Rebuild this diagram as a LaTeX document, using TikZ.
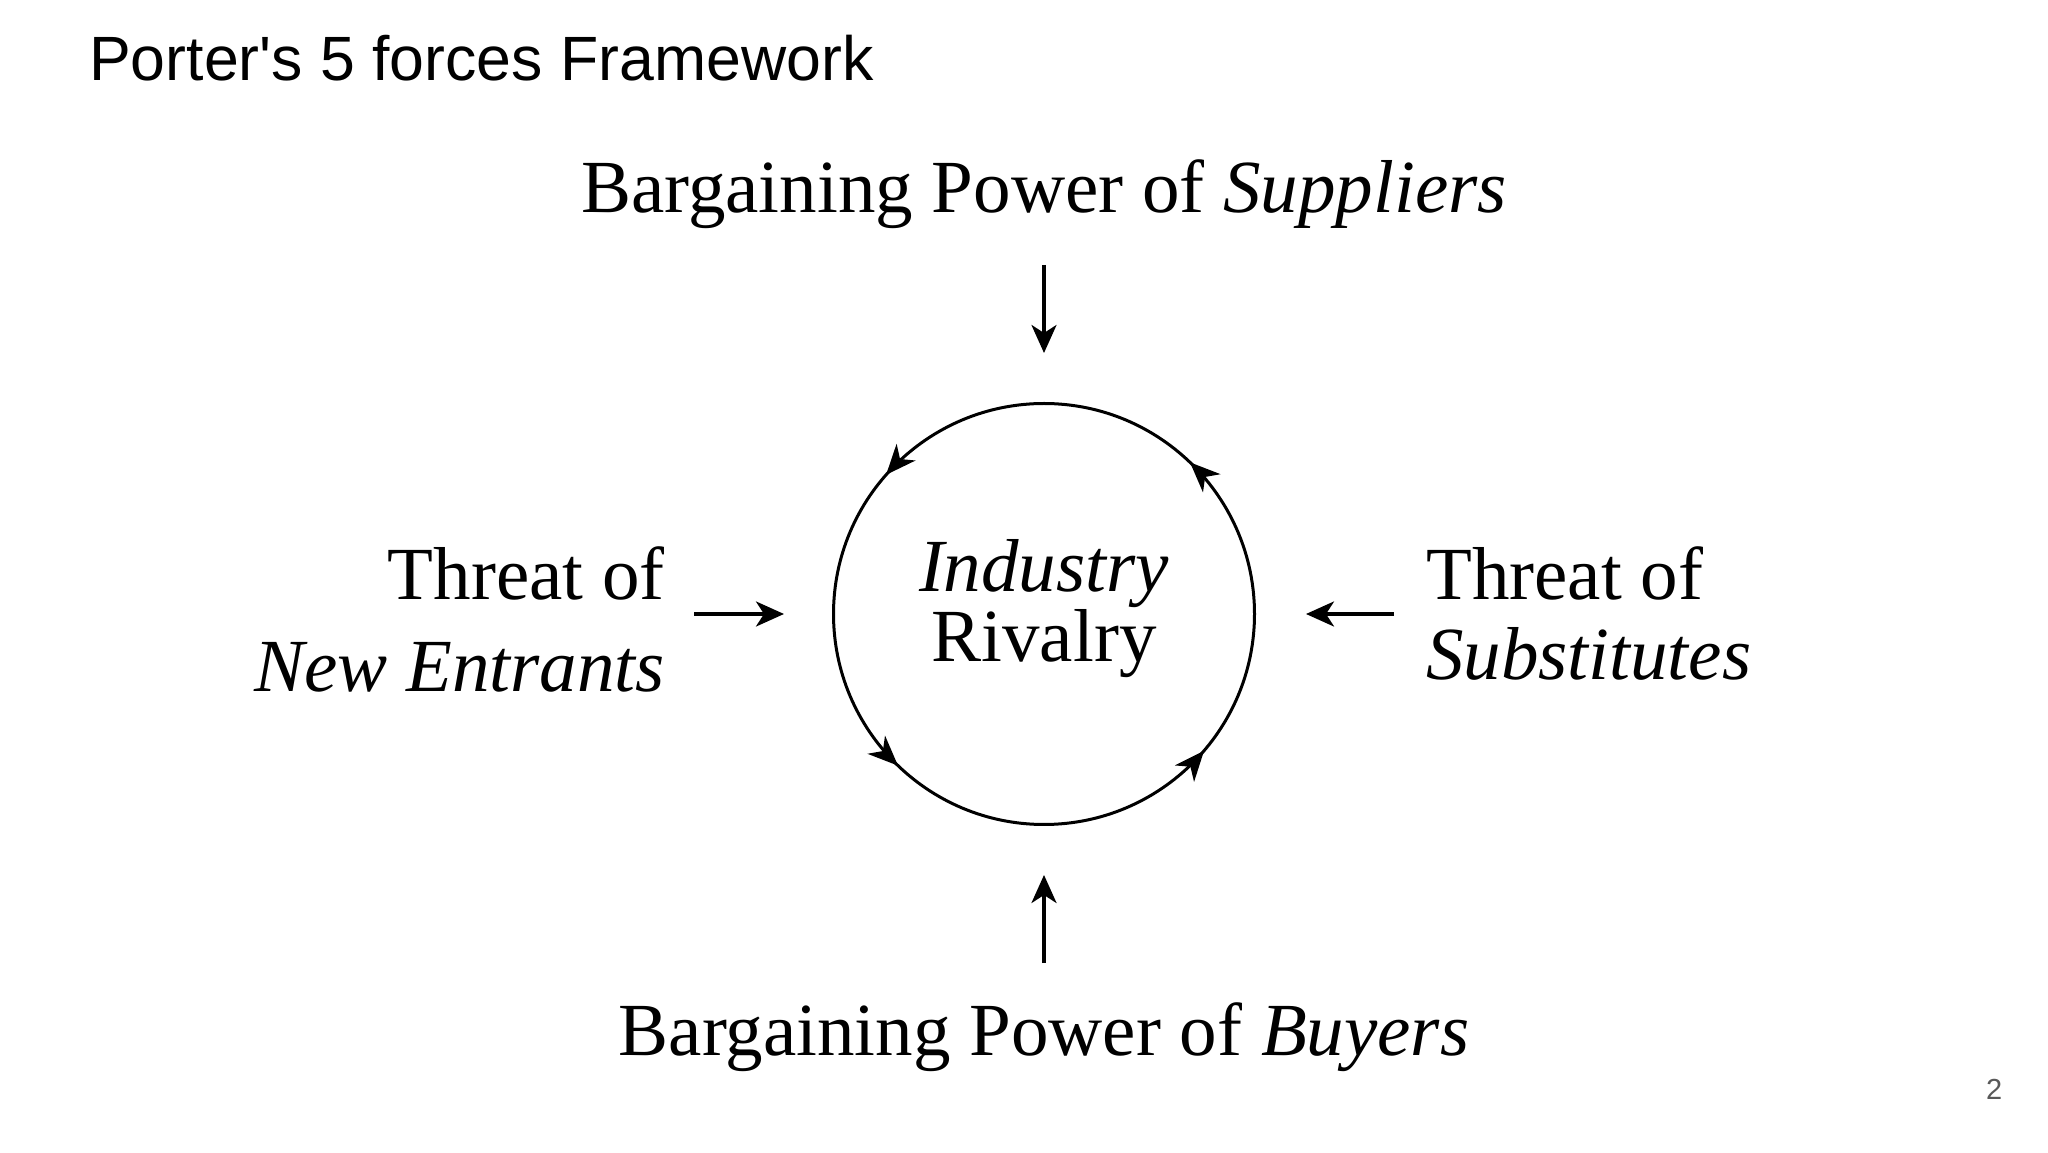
\documentclass[tikz,border=0pt]{standalone}
\usepackage{fontspec}
\setmainfont{Liberation Serif}
\newfontfamily\titlefont{Liberation Sans}
\usetikzlibrary{arrows.meta,decorations.markings}
\tikzset{
  txt/.style={inner sep=0pt, font=\fontsize{75}{90}\selectfont},
  force/.style={line width=3.5pt, -{Stealth[length=28pt,width=25pt,inset=8pt]}},
  ringtip/.style={},
  ringarrows/.style={line width=3pt, postaction={decorate},
    decoration={markings,
      mark=at position 0.128 with {\arrow{Stealth[length=30pt,width=25pt,inset=9pt]}},
      mark=at position 0.385 with {\arrow{Stealth[length=30pt,width=25pt,inset=9pt]}},
      mark=at position 0.628 with {\arrow{Stealth[length=30pt,width=25pt,inset=9pt]}},
      mark=at position 0.8875 with {\arrow{Stealth[length=30pt,width=25pt,inset=9pt]}}}}
}
\begin{document}
\begin{tikzpicture}[x=1pt,y=1pt]
\useasboundingbox (0,0) rectangle (2048,1152);
\fill[white] (0,0) rectangle (2048,1152);
% title
\node[inner sep=0pt, anchor=base west, font=\titlefont\fontsize{62.6}{75}\selectfont] (title) at (89,1071) {Porter's 5 forces Framework};
% page number
\node[inner sep=0pt, anchor=base west, text=black!65, font=\titlefont\fontsize{29}{34}\selectfont] (pagenum) at (1986,53) {2};
% forces
\node[txt, anchor=base] (suppliers) at (1044,939) {Bargaining Power of \textit{Suppliers}};
\node[txt, anchor=base] (buyers) at (1044,97) {Bargaining Power of \textit{Buyers}};
\node[txt, anchor=base east] (entrants1) at (665,552) {Threat of};
\node[txt, anchor=base east] (entrants2) at (665,460) {\textit{New Entrants}};
\node[txt, anchor=base west] (subst1) at (1426,552) {Threat of};
\node[txt, anchor=base west] (subst2) at (1426,472) {\textit{Substitutes}};
% rivalry
\coordinate (center) at (1044,538);
\draw[ringarrows] (center) circle[radius=210.5pt];
\node[txt, anchor=base] (industry) at (1044,560) {\textit{Industry}};
\node[txt, anchor=base] (rivalry) at (1044,490) {Rivalry};
% arrow end points
\coordinate (supS) at (1044,887);
\coordinate (supE) at (1044,799);
\coordinate (buyS) at (1044,189);
\coordinate (buyE) at (1044,277);
\coordinate (entS) at (694,538);
\coordinate (entE) at (784,538);
\coordinate (subS) at (1394,538);
\coordinate (subE) at (1306,538);
\draw[force] (supS) -- (supE);
\draw[force] (buyS) -- (buyE);
\draw[force] (entS) -- (entE);
\draw[force] (subS) -- (subE);
\end{tikzpicture}
\end{document}
